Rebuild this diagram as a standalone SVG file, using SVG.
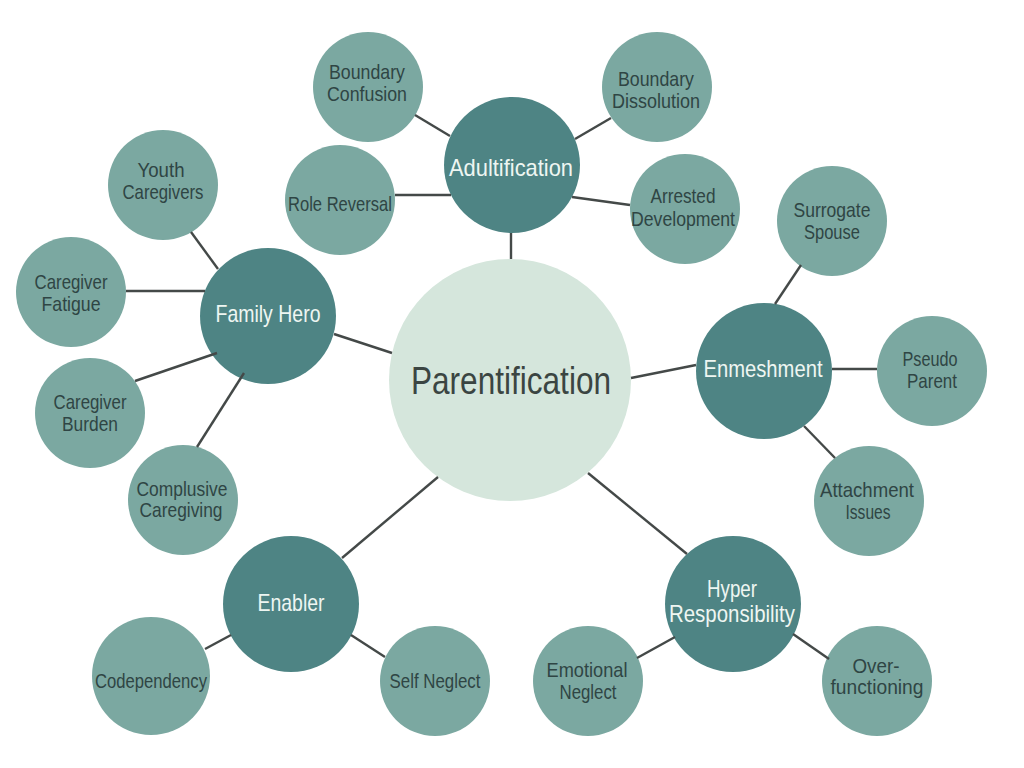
<svg xmlns="http://www.w3.org/2000/svg" width="1024" height="768" viewBox="0 0 1024 768">
<style>
.bg{fill:#fff}
.l{stroke:#444948;stroke-width:2.4;fill:none}
.c0{fill:#d5e6dc}.c1{fill:#4e8484}.c2{fill:#7ba8a1}
text{font-family:"Liberation Sans",sans-serif;text-anchor:middle}
.t0{font-size:39px;fill:#3b4542}
.t1{font-size:24px;fill:#eef6f2}
.t2{font-size:21px;fill:#2f4544}
</style>
<rect class="bg" width="1024" height="768"/>
<g id="parentification"><circle class="c0" cx="510" cy="380" r="121"/><text class="t0" x="511" y="394" textLength="200" lengthAdjust="spacingAndGlyphs">Parentification</text></g>
<g id="adultification"><circle class="c1" cx="512" cy="165" r="68"/><text class="t1" x="511" y="176" textLength="124" lengthAdjust="spacingAndGlyphs">Adultification</text></g>
<g id="family-hero"><circle class="c1" cx="268" cy="316" r="68"/><text class="t1" x="268" y="322" textLength="105" lengthAdjust="spacingAndGlyphs">Family Hero</text></g>
<g id="enmeshment"><circle class="c1" cx="764" cy="371" r="68"/><text class="t1" x="763" y="377" textLength="119" lengthAdjust="spacingAndGlyphs">Enmeshment</text></g>
<g id="enabler"><circle class="c1" cx="291" cy="604" r="68"/><text class="t1" x="291" y="611" textLength="67" lengthAdjust="spacingAndGlyphs">Enabler</text></g>
<g id="hyper-responsibility"><circle class="c1" cx="733" cy="604" r="68"/><text class="t1" x="732" y="597" textLength="50" lengthAdjust="spacingAndGlyphs">Hyper</text><text class="t1" x="732" y="622" textLength="126" lengthAdjust="spacingAndGlyphs">Responsibility</text></g>
<g id="boundary-confusion"><circle class="c2" cx="368" cy="87" r="55"/><text class="t2" x="367" y="79" textLength="76" lengthAdjust="spacingAndGlyphs">Boundary</text><text class="t2" x="367" y="101" textLength="80" lengthAdjust="spacingAndGlyphs">Confusion</text></g>
<g id="boundary-dissolution"><circle class="c2" cx="657" cy="87" r="55"/><text class="t2" x="656" y="86" textLength="76" lengthAdjust="spacingAndGlyphs">Boundary</text><text class="t2" x="656" y="108" textLength="88" lengthAdjust="spacingAndGlyphs">Dissolution</text></g>
<g id="role-reversal"><circle class="c2" cx="340" cy="200" r="55"/><text class="t2" x="340" y="211" textLength="104" lengthAdjust="spacingAndGlyphs">Role Reversal</text></g>
<g id="arrested-development"><circle class="c2" cx="685" cy="209" r="55"/><text class="t2" x="683" y="203" textLength="65" lengthAdjust="spacingAndGlyphs">Arrested</text><text class="t2" x="683" y="226" textLength="104" lengthAdjust="spacingAndGlyphs">Development</text></g>
<g id="youth-caregivers"><circle class="c2" cx="163" cy="185" r="55"/><text class="t2" x="161" y="177" textLength="47" lengthAdjust="spacingAndGlyphs">Youth</text><text class="t2" x="163" y="199" textLength="81" lengthAdjust="spacingAndGlyphs">Caregivers</text></g>
<g id="caregiver-fatigue"><circle class="c2" cx="71" cy="292" r="55"/><text class="t2" x="71" y="289" textLength="73" lengthAdjust="spacingAndGlyphs">Caregiver</text><text class="t2" x="71" y="311" textLength="59" lengthAdjust="spacingAndGlyphs">Fatigue</text></g>
<g id="caregiver-burden"><circle class="c2" cx="90" cy="413" r="55"/><text class="t2" x="90" y="409" textLength="73" lengthAdjust="spacingAndGlyphs">Caregiver</text><text class="t2" x="90" y="431" textLength="56" lengthAdjust="spacingAndGlyphs">Burden</text></g>
<g id="complusive-caregiving"><circle class="c2" cx="183" cy="500" r="55"/><text class="t2" x="182" y="496" textLength="91" lengthAdjust="spacingAndGlyphs">Complusive</text><text class="t2" x="181" y="517" textLength="83" lengthAdjust="spacingAndGlyphs">Caregiving</text></g>
<g id="surrogate-spouse"><circle class="c2" cx="832" cy="221" r="55"/><text class="t2" x="832" y="217" textLength="77" lengthAdjust="spacingAndGlyphs">Surrogate</text><text class="t2" x="832" y="239" textLength="56" lengthAdjust="spacingAndGlyphs">Spouse</text></g>
<g id="pseudo-parent"><circle class="c2" cx="932" cy="371" r="55"/><text class="t2" x="930" y="366" textLength="55" lengthAdjust="spacingAndGlyphs">Pseudo</text><text class="t2" x="932" y="388" textLength="50" lengthAdjust="spacingAndGlyphs">Parent</text></g>
<g id="attachment-issues"><circle class="c2" cx="869" cy="501" r="55"/><text class="t2" x="867" y="497" textLength="94" lengthAdjust="spacingAndGlyphs">Attachment</text><text class="t2" x="868" y="519" textLength="45" lengthAdjust="spacingAndGlyphs">Issues</text></g>
<g id="codependency"><circle class="c2" cx="151" cy="676" r="59"/><text class="t2" x="151" y="688" textLength="112" lengthAdjust="spacingAndGlyphs">Codependency</text></g>
<g id="self-neglect"><circle class="c2" cx="435" cy="681" r="55"/><text class="t2" x="435" y="688" textLength="91" lengthAdjust="spacingAndGlyphs">Self Neglect</text></g>
<g id="emotional-neglect"><circle class="c2" cx="588" cy="681" r="55"/><text class="t2" x="587" y="677" textLength="81" lengthAdjust="spacingAndGlyphs">Emotional</text><text class="t2" x="588" y="699" textLength="57" lengthAdjust="spacingAndGlyphs">Neglect</text></g>
<g id="over-functioning"><circle class="c2" cx="877" cy="681" r="55"/><text class="t2" x="876" y="673" textLength="47" lengthAdjust="spacingAndGlyphs">Over-</text><text class="t2" x="877" y="694" textLength="93" lengthAdjust="spacingAndGlyphs">functioning</text></g>
<g id="connectors">
<line class="l" x1="511" y1="233" x2="511" y2="259"/>
<line class="l" x1="415" y1="115" x2="450" y2="136"/>
<line class="l" x1="395" y1="195" x2="451" y2="195"/>
<line class="l" x1="575" y1="139" x2="611" y2="118"/>
<line class="l" x1="572" y1="197" x2="630" y2="205"/>
<line class="l" x1="334" y1="334" x2="392" y2="353"/>
<line class="l" x1="191" y1="232" x2="218" y2="269"/>
<line class="l" x1="126" y1="291" x2="205" y2="291"/>
<line class="l" x1="135" y1="381" x2="217" y2="353"/>
<line class="l" x1="197" y1="447" x2="244" y2="373"/>
<line class="l" x1="631" y1="378" x2="696" y2="365"/>
<line class="l" x1="775" y1="304" x2="801" y2="265"/>
<line class="l" x1="832" y1="369" x2="877" y2="369"/>
<line class="l" x1="804" y1="426" x2="835" y2="458"/>
<line class="l" x1="438" y1="477" x2="342" y2="558"/>
<line class="l" x1="205" y1="649" x2="231" y2="635"/>
<line class="l" x1="351" y1="635" x2="385" y2="657"/>
<line class="l" x1="588" y1="473" x2="687" y2="554"/>
<line class="l" x1="637" y1="658" x2="675" y2="637"/>
<line class="l" x1="793" y1="634" x2="829" y2="659"/>
</g>
</svg>
